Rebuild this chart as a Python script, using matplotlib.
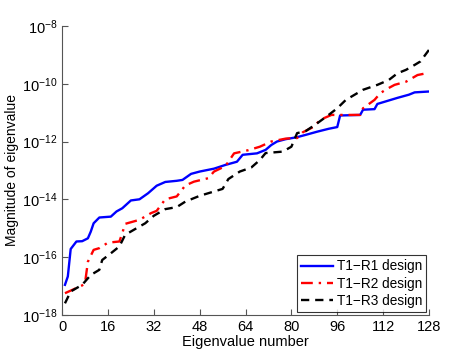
import matplotlib
matplotlib.use("Agg")
import matplotlib.pyplot as plt
import numpy as np

plt.rcParams["font.family"] = ["Liberation Sans", "DejaVu Sans"]
plt.rcParams["mathtext.default"] = "regular"

# eigenvalue index and log10 of magnitude
r1_idx = [1, 2, 3, 5, 7, 9, 10, 11, 13, 17, 19, 21, 24, 27, 30, 33, 36, 40, 42, 45,
          48, 53, 57, 61, 63, 68, 71, 73, 75, 78, 82, 85, 89, 93, 96, 97, 104, 105,
          109, 110, 117, 121, 123, 128]
r1_exp = [-16.96, -16.67, -15.72, -15.46, -15.45, -15.35, -15.12, -14.83, -14.63,
          -14.60, -14.42, -14.31, -14.04, -14.00, -13.79, -13.53, -13.40, -13.36,
          -13.33, -13.12, -13.04, -12.94, -12.81, -12.70, -12.46, -12.41, -12.29,
          -12.12, -12.00, -11.92, -11.85, -11.77, -11.66, -11.56, -11.50, -11.10,
          -11.08, -10.90, -10.88, -10.70, -10.49, -10.38, -10.30, -10.27]

r2_idx = [1, 7, 8, 9, 11, 13, 16, 20, 21, 22, 27, 31, 33, 36, 40, 43, 46, 51, 53,
          57, 60, 65, 69, 73, 78, 82, 84, 88, 90, 94, 104, 105, 109, 111, 113, 116,
          120, 124, 128]
r2_exp = [-17.25, -16.98, -16.90, -16.16, -15.75, -15.69, -15.50, -15.46, -15.17,
          -14.85, -14.71, -14.48, -14.40, -14.00, -13.90, -13.52, -13.39, -13.27,
          -13.04, -12.85, -12.41, -12.30, -12.18, -12.00, -11.90, -11.88, -11.68,
          -11.48, -11.25, -11.08, -11.08, -10.85, -10.56, -10.33, -10.20, -10.04,
          -9.93, -9.70, -9.62]

r3_idx = [1, 3, 7, 10, 13, 14, 17, 20, 22, 26, 29, 32, 36, 40, 43, 48, 53, 56, 58,
          62, 66, 69, 71, 77, 80, 82, 85, 89, 93, 96, 99, 105, 110, 114, 117, 120,
          123, 125, 128]
r3_exp = [-17.60, -17.19, -16.96, -16.62, -16.44, -16.10, -15.87, -15.63, -15.23,
          -15.00, -14.83, -14.57, -14.34, -14.27, -14.08, -13.88, -13.73, -13.64,
          -13.30, -13.04, -12.90, -12.64, -12.40, -12.35, -12.18, -11.71, -11.64,
          -11.37, -11.08, -10.85, -10.56, -10.21, -10.04, -9.87, -9.64, -9.52,
          -9.35, -9.23, -8.83]

labels = ["T1\u2212R1 design", "T1\u2212R2 design", "T1\u2212R3 design"]
x_ticks = [0, 16, 32, 48, 64, 80, 96, 112, 128]

fig = plt.figure(figsize=(4.74, 3.55), dpi=100)
ax = fig.add_axes([0.131, 0.113, 0.774, 0.814])

ax.semilogy(r1_idx, 10.0 ** np.array(r1_exp), color="#0000ff", lw=1.7, ls="-", label=labels[0])
ax.semilogy(r2_idx, 10.0 ** np.array(r2_exp), color="#ff0000", lw=1.7, ls=(0, (5, 2.5, 1, 2.5)), label=labels[1])
ax.semilogy(r3_idx, 10.0 ** np.array(r3_exp), color="black", lw=1.7, ls=(0, (3.5, 2.5)), label=labels[2])

ax.set_xlim(0, 128)
ax.set_ylim(1e-18, 1e-8)
ax.set_xticks(x_ticks)
ax.set_yticks([1e-18, 1e-16, 1e-14, 1e-12, 1e-10, 1e-8])
ax.yaxis.set_minor_locator(matplotlib.ticker.NullLocator())

for side in ["top", "right"]:
    ax.spines[side].set_visible(False)
for side in ["left", "bottom"]:
    ax.spines[side].set_color("#555555")
    ax.spines[side].set_linewidth(0.8)
ax.tick_params(direction="in", length=4, width=0.8, color="#555555",
               labelsize=10.5, labelcolor="black")

ax.set_xlabel("Eigenvalue number", fontsize=10.5, labelpad=1)
ax.set_ylabel("Magnitude of eigenvalue", fontsize=10, labelpad=2)

leg = ax.legend(loc="lower right", fontsize=9.8, frameon=True, fancybox=False,
                handlelength=2.3, handletextpad=0.3, borderpad=0.3,
                labelspacing=0.25, borderaxespad=0.2)
leg.get_frame().set_edgecolor("black")
leg.get_frame().set_linewidth(0.8)

fig.savefig("out.png", dpi=100)
